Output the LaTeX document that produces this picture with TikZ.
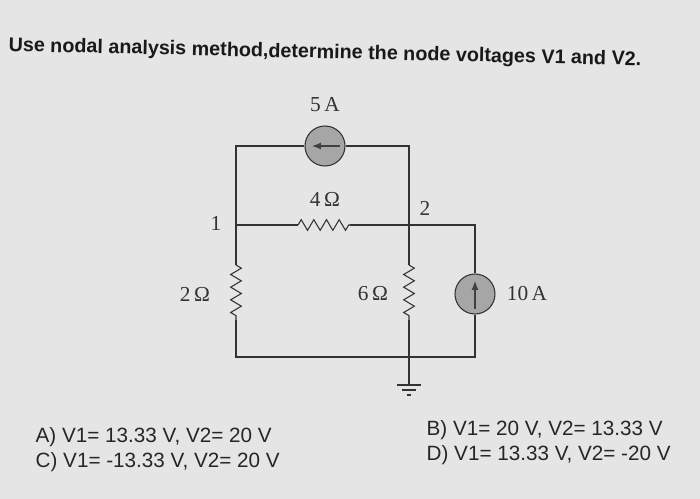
\documentclass[tikz,border=0pt]{standalone}
\usepackage{fontspec}
\setmainfont{Liberation Serif}
\newfontfamily\sans{Liberation Sans}
\usetikzlibrary{decorations.pathmorphing,arrows.meta}
\begin{document}
\begin{tikzpicture}[x=0.75pt,y=-0.75pt,
  wire/.style={line width=0.8pt,draw=black!80},
  res/.style={wire,decorate,decoration={zigzag,segment length=9.5,amplitude=4}},
  src/.style={circle,draw=black!80,line width=0.8pt,fill=black!35,minimum size=30pt,inner sep=0},
  lbl/.style={font=\fontsize{16}{18}\selectfont,text=black!80},
  ans/.style={font=\sans\fontsize{15.5}{18}\selectfont,text=black!85,anchor=west}]
\fill[black!10] (0,0) rectangle (700,499);
\node[anchor=west,font=\sans\bfseries\fontsize{14.8}{17}\selectfont,text=black!90,rotate=-1.3] (title) at (4,46) {Use nodal analysis method,determine the node voltages V1 and V2.};
\coordinate (tl) at (236,146); \coordinate (tr) at (409,146);
\coordinate (n1) at (236,225); \coordinate (n2) at (409,225);
\coordinate (rr) at (475,225);
\coordinate (bl) at (236,357); \coordinate (bm) at (409,357); \coordinate (br) at (475,357);
\coordinate (g) at (409,385);
\node[src] (s5) at (325,146) {};
\node[src] (s10) at (475,294) {};
\draw[-{Latex[length=7pt]},line width=1.4pt,black!75] (s5.east) ++(-6,0) -- ++(-28,0);
\draw[-{Latex[length=7pt]},line width=1.4pt,black!75] (s10.south) ++(0,-6) -- ++(0,-28);
\draw[wire] (s5) -- (tl) -- (n1) -- (298,225);
\draw[res] (298,225) -- (350,225);
\draw[wire] (350,225) -- (rr) -- (s10);
\draw[wire] (s5) -- (tr) -- (n2) -- (409,265);
\draw[res] (409,265) -- (409,320);
\draw[wire] (409,320) -- (bm) -- (g);
\draw[wire] (n1) -- (236,265);
\draw[res] (236,265) -- (236,320);
\draw[wire] (236,320) -- (bl) -- (br) -- (s10);
\draw[wire] (397,385) -- (421,385) (402,390) -- (416,390) (407,395) -- (411,395);
\node[lbl] (l5) at (325,105) {5\,A};
\node[lbl] (l4) at (325,199) {4\,Ω};
\node[lbl] (l1) at (216,223) {1};
\node[lbl] (l2) at (425,208) {2};
\node[lbl] (l2o) at (195,294) {2\,Ω};
\node[lbl] (l6) at (373,294) {6\,Ω};
\node[lbl] (l10) at (527,294) {10\,A};
\node[ans] (a) at (31,437) {A) V1= 13.33 V, V2= 20 V};
\node[ans] (c) at (31,462) {C) V1= -13.33 V, V2= 20 V};
\node[ans] (b) at (422,430) {B) V1= 20 V, V2= 13.33 V};
\node[ans] (d) at (422,455) {D) V1= 13.33 V, V2= -20 V};
\end{tikzpicture}
\end{document}
